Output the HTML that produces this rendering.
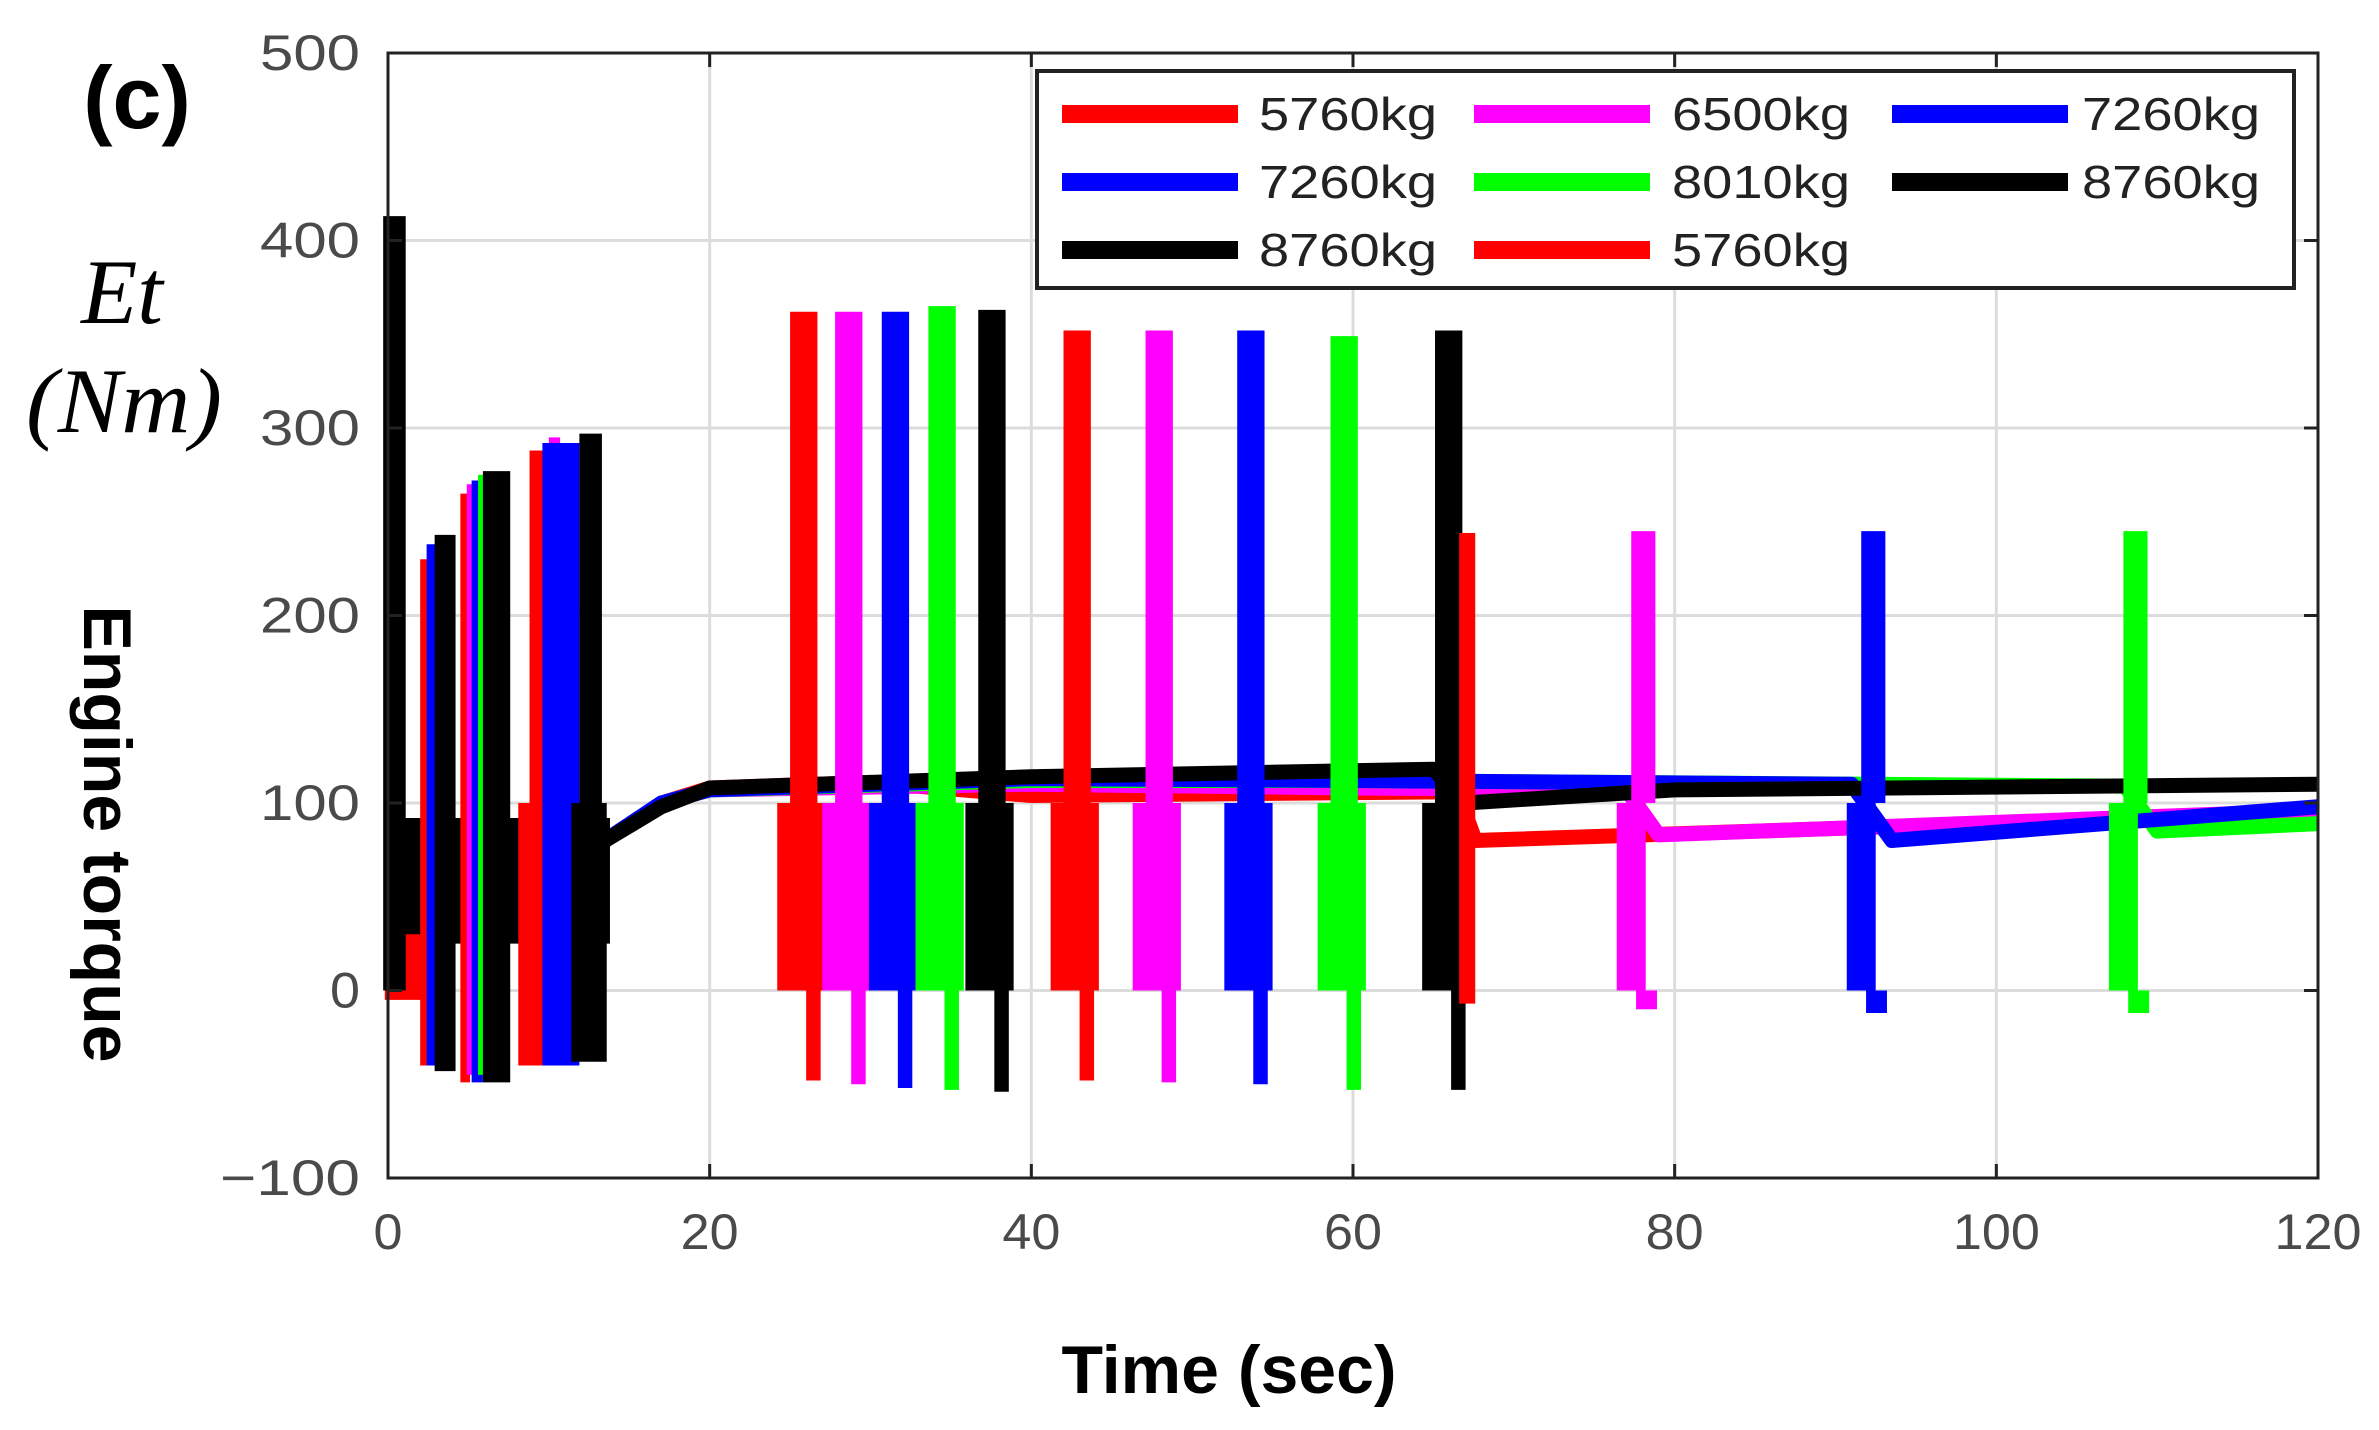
<!DOCTYPE html>
<html><head><meta charset="utf-8"><style>
html,body{margin:0;padding:0;background:#fff;}
svg{display:block;}
</style></head><body>
<svg id="s" xmlns="http://www.w3.org/2000/svg" width="2379" height="1430" viewBox="0 0 2379 1430">
<rect width="2379" height="1430" fill="#fff"/>
<g id="grid" stroke="#dcdcdc" stroke-width="3"></g>
<g id="data"></g>
<rect x="388" y="53" width="1930" height="1125" fill="none" stroke="#222" stroke-width="3"/>
<g id="ticks" stroke="#222" stroke-width="3"></g>
<g id="labels" font-family="Liberation Sans, sans-serif" font-size="50" fill="#4a4a4a"></g>
<g id="legend"></g>
<text x="137" y="128" font-family="Liberation Sans, sans-serif" font-weight="bold" font-size="88" text-anchor="middle" fill="#000">(c)</text>
<text x="122" y="323" font-family="Liberation Serif, serif" font-style="italic" font-size="92" text-anchor="middle" fill="#000">Et</text>
<text x="124" y="432" font-family="Liberation Serif, serif" font-style="italic" font-size="92" text-anchor="middle" fill="#000" textLength="196" lengthAdjust="spacingAndGlyphs">(Nm)</text>
<text transform="translate(84,834) rotate(90)" font-family="Liberation Sans, sans-serif" font-weight="bold" font-size="68" text-anchor="middle" fill="#000">Engine torque</text>
<text x="1229" y="1393" font-family="Liberation Sans, sans-serif" font-weight="bold" font-size="68" text-anchor="middle" fill="#000">Time (sec)</text>
</svg>
<script>
const NS="http://www.w3.org/2000/svg";
const L=388,R=2318,T=53,B=1178;
const X=t=>L+(t)*(R-L)/120, Y=v=>B-(v+100)*(B-T)/600;
function el(p,tag,a){const e=document.createElementNS(NS,tag);for(const k in a)e.setAttribute(k,a[k]);p.appendChild(e);return e;}
const grid=document.getElementById('grid'),ticks=document.getElementById('ticks'),lab=document.getElementById('labels'),data=document.getElementById('data');
for(let t=20;t<120;t+=20){el(grid,'line',{x1:X(t),x2:X(t),y1:T,y2:B});}
for(let v=0;v<500;v+=100){el(grid,'line',{x1:L,x2:R,y1:Y(v),y2:Y(v)});}
for(let t=0;t<=120;t+=20){el(ticks,'line',{x1:X(t),x2:X(t),y1:B,y2:B-14});el(ticks,'line',{x1:X(t),x2:X(t),y1:T,y2:T+14});
 const s=String(t);const tx=el(lab,'text',{x:X(t),y:1249,'text-anchor':'middle',textLength:s.length*29,lengthAdjust:'spacingAndGlyphs'});tx.textContent=s;}
for(let v=-100;v<=500;v+=100){el(ticks,'line',{x1:L,x2:L+14,y1:Y(v),y2:Y(v)});el(ticks,'line',{x1:R,x2:R-14,y1:Y(v),y2:Y(v)});
 const s=(v<0?'\u2212':'')+Math.abs(v);const w=v<0?140:(v==0?30:100);
 const tx=el(lab,'text',{x:360-w,y:Y(v)+17,textLength:w,lengthAdjust:'spacingAndGlyphs'});tx.textContent=s;}
const C={r:'#ff0000',m:'#ff00ff',b:'#0000ff',g:'#00ff00',k:'#000000'};
function rect(c,t0,t1,v0,v1){el(data,'rect',{x:X(t0),y:Y(Math.max(v0,v1)),width:X(t1)-X(t0),height:Math.abs(Y(v0)-Y(v1)),fill:C[c]});}
function line(c,pts){el(data,'polyline',{points:pts.map(p=>X(p[0])+','+Y(p[1])).join(' '),fill:'none',stroke:C[c],'stroke-width':15,'stroke-linejoin':'round'});}
line('r',[[13.5,80],[17,100],[20,108],[30,111],[40,104],[66.5,106],[67.6,80],[120,95]]);
line('m',[[13.5,80],[17,100],[20,107],[40,110],[60,108],[77,107],[79,83],[120,96]]);
line('g',[[13.5,80],[17,100],[20,107],[40,112],[60,112],[108,109],[110,85],[120,89]]);
line('b',[[13.5,80],[17,100],[20,107],[40,113],[60,112],[91,110],[93.5,80],[120,98]]);
line('k',[[13.5,80],[17,98],[20,108],[40,114],[65,118],[67,100],[80,107],[120,110]]);
rect('k',0,13.8,25,92);
rect('r',-0.2,3,-5,30);
rect('k',-0.3,1.1,0,413);
rect('r',2.0,2.6,-40,230);rect('b',2.4,3.0,-40,238);rect('k',2.9,4.2,-43,243);
rect('r',4.5,5.1,-49,265);rect('m',4.9,5.3,-45,270);rect('b',5.2,5.9,-49,272);rect('g',5.6,6.0,-45,275);rect('k',5.9,7.6,-49,277);
rect('r',8.1,10.2,-40,100);rect('r',8.8,10.1,100,288);rect('m',10.0,10.7,100,295);rect('b',9.6,11.9,-40,292);rect('k',11.9,13.3,100,297);rect('k',11.4,13.6,-38,100);
function big(c,t,peak,lo){rect(c,t-0.8,t+2.2,0,100);rect(c,t,t+1.7,100,peak);rect(c,t+1,t+1.9,lo,0);}
big('r',25.0,362,-48);big('m',27.8,362,-50);big('b',30.7,362,-52);big('g',33.6,365,-53);big('k',36.7,363,-54);
big('r',42.0,352,-48);big('m',47.1,352,-49);big('b',52.8,352,-50);big('g',58.6,349,-53);big('k',65.1,352,-53);
function sm(c,t,lo){rect(c,t-0.9,t+0.9,0,100);rect(c,t,t+1.5,100,245);rect(c,t+0.3,t+1.6,lo,0);}
rect('r',66.6,67.6,-7,244);
sm('m',77.3,-10);sm('b',91.6,-12);sm('g',107.9,-12);
const lg=document.getElementById('legend');
el(lg,'rect',{x:1037,y:71,width:1257,height:217,fill:'#fff',stroke:'#222','stroke-width':4});
const items=[['r','5760kg',0,0],['m','6500kg',1,0],['b','7260kg',2,0],['b','7260kg',0,1],['g','8010kg',1,1],['k','8760kg',2,1],['k','8760kg',0,2],['r','5760kg',1,2]];
const cx=[1062,1474,1892],tx=[1259,1672,2082],ry=[114,182,250];
items.forEach(([c,s,i,j])=>{el(lg,'rect',{x:cx[i],y:ry[j]-9,width:176,height:18,fill:C[c]});
 const t=el(lg,'text',{x:tx[i],y:ry[j]+16,'font-family':'Liberation Sans, sans-serif','font-size':46,fill:'#222',textLength:178,lengthAdjust:'spacingAndGlyphs'});t.textContent=s;});
</script>
</body></html>
